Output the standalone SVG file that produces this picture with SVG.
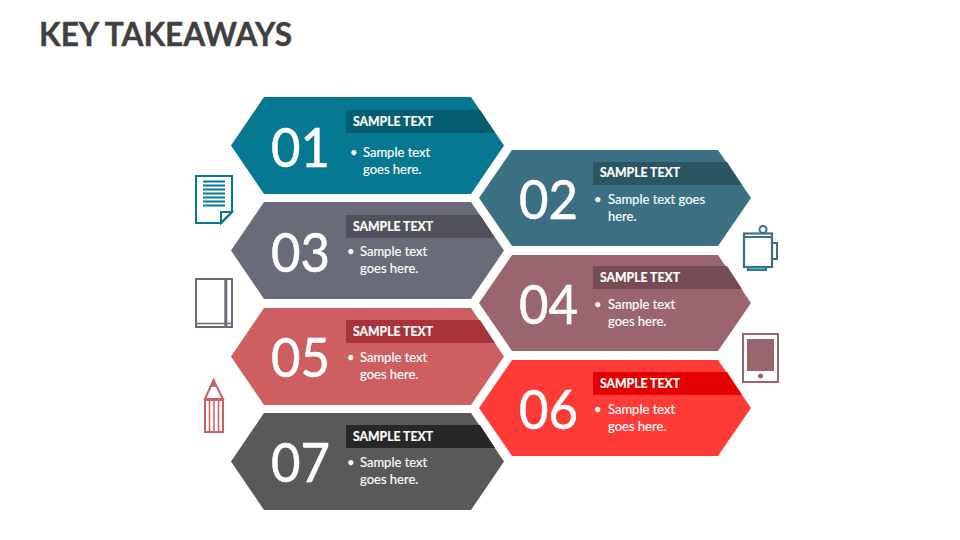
<svg xmlns="http://www.w3.org/2000/svg" width="960" height="540" viewBox="0 0 960 540">
<style>
text{font-family:Lato,"Open Sans",sans-serif;fill:#fff}
.t{font-size:33px;font-weight:700;fill:#404040;stroke:#404040;stroke-width:.4}
.n{font-size:55px;stroke:#fff;stroke-width:.6}
.h{font-size:13px;font-weight:700;stroke:#fff;stroke-width:.2}
.b{font-size:13px;stroke:#fff;stroke-width:.15}
.o{fill:none;stroke-width:2}
</style>
<defs>
<polygon id="hex" points="0,48.500 33,0 240,0 273,48.500 240,97 33,97"/>
<polygon id="hex2" points="0,48 33,0 239,0 272,48 239,96 33,96"/>
<polygon id="band" points="0,0 134,0 149,23 0,23"/>
</defs>
<rect width="960" height="540" fill="#fff"/>
<text class="t" x="39" y="46" textLength="253" lengthAdjust="spacingAndGlyphs">KEY TAKEAWAYS</text>
<g id="node-01"><use href="#hex" x="231" y="97" fill="#077891"/><use href="#band" x="346" y="110" fill="#055E70"/>
<text class="n" x="271" y="167" textLength="59" lengthAdjust="spacingAndGlyphs">01</text><text class="h" x="353" y="126" textLength="80" lengthAdjust="spacingAndGlyphs">SAMPLE TEXT</text>
<text class="b" x="350" y="157">•</text><text class="b" x="363" y="157">Sample text</text><text class="b" x="363" y="174">goes here.</text></g>
<g id="node-02"><use href="#hex2" x="479" y="150" fill="#3A7082"/><use href="#band" x="593" y="162" fill="#2C5564"/>
<text class="n" x="519" y="219" textLength="59" lengthAdjust="spacingAndGlyphs">02</text><text class="h" x="600" y="177" textLength="80" lengthAdjust="spacingAndGlyphs">SAMPLE TEXT</text>
<text class="b" x="594" y="204">•</text><text class="b" x="608" y="204">Sample text goes</text><text class="b" x="608" y="221">here.</text></g>
<g id="node-03"><use href="#hex" x="231" y="202" fill="#6A6B78"/><use href="#band" x="346" y="215" fill="#50515B"/>
<text class="n" x="271" y="272" textLength="59" lengthAdjust="spacingAndGlyphs">03</text><text class="h" x="353" y="231" textLength="80" lengthAdjust="spacingAndGlyphs">SAMPLE TEXT</text>
<text class="b" x="347" y="256">•</text><text class="b" x="360" y="256">Sample text</text><text class="b" x="360" y="273">goes here.</text></g>
<g id="node-04"><use href="#hex2" x="479" y="255" fill="#9A656E"/><use href="#band" x="593" y="266" fill="#754C54"/>
<text class="n" x="519" y="324" textLength="59" lengthAdjust="spacingAndGlyphs">04</text><text class="h" x="600" y="282" textLength="80" lengthAdjust="spacingAndGlyphs">SAMPLE TEXT</text>
<text class="b" x="594" y="309">•</text><text class="b" x="608" y="309">Sample text</text><text class="b" x="608" y="326">goes here.</text></g>
<g id="node-05"><use href="#hex" x="231" y="308" fill="#CD5F61"/><use href="#band" x="346" y="320" fill="#A83439"/>
<text class="n" x="271" y="377" textLength="59" lengthAdjust="spacingAndGlyphs">05</text><text class="h" x="353" y="336" textLength="80" lengthAdjust="spacingAndGlyphs">SAMPLE TEXT</text>
<text class="b" x="347" y="362">•</text><text class="b" x="360" y="362">Sample text</text><text class="b" x="360" y="379">goes here.</text></g>
<g id="node-06"><use href="#hex2" x="479" y="360" fill="#FF3B38"/><use href="#band" x="593" y="372" fill="#E30000"/>
<text class="n" x="519" y="429" textLength="59" lengthAdjust="spacingAndGlyphs">06</text><text class="h" x="600" y="388" textLength="80" lengthAdjust="spacingAndGlyphs">SAMPLE TEXT</text>
<text class="b" x="594" y="414">•</text><text class="b" x="608" y="414">Sample text</text><text class="b" x="608" y="431">goes here.</text></g>
<g id="node-07"><use href="#hex" x="231" y="413" fill="#595959"/><use href="#band" x="346" y="425" fill="#272727"/>
<text class="n" x="271" y="482" textLength="59" lengthAdjust="spacingAndGlyphs">07</text><text class="h" x="353" y="441" textLength="80" lengthAdjust="spacingAndGlyphs">SAMPLE TEXT</text>
<text class="b" x="347" y="467">•</text><text class="b" x="360" y="467">Sample text</text><text class="b" x="360" y="484">goes here.</text></g>
<g id="icon-doc" stroke="#077891">
<path d="M196 176H232V212L221 223H196Z" fill="none" stroke-width="2"/>
<path d="M232 212H221V223Z" fill="none" stroke-width="2"/>
<path d="M203 181.500H225M203 185.500H225M203 189.500H225M203 193.500H225M203 197.500H225M203 201.500H225M203 205.500H225" stroke-width="1.800" fill="none"/>
</g>
<g id="icon-book" stroke="#6A6B78">
<rect class="o" x="196" y="279" width="36" height="48"/>
<path d="M225.800 279V327" fill="none" stroke-width="3"/>
<path d="M196 323.500H232" fill="none" stroke-width="1.500"/>
</g>
<g id="icon-pencil" stroke="#CD5F61">
<path class="o" d="M205 399L213.500 380L223 399Z"/>
<rect class="o" x="205" y="400" width="18" height="32"/>
<path d="M209.500 400V432M214 400V432M218.500 400V432" fill="none" stroke-width="1.500"/>
<path d="M210.500 387H216.500L213.500 380Z" fill="#CD5F61" stroke="none"/>
<circle cx="213.500" cy="386" r="1" fill="#3DB8DC" stroke="none"/>
</g>
<g id="icon-mug" stroke="#3A7082">
<rect x="744" y="233.500" width="28" height="33.500" fill="none" stroke-width="2.200"/>
<path class="o" d="M744 237H772"/>
<circle class="o" cx="763" cy="229.500" r="3.500"/>
<path class="o" d="M772 243H777V259H772"/>
<path class="o" d="M748 267V270H766V267"/>
<path d="M749 268.500H765" stroke="#3DB8DC" stroke-width="1.500" fill="none"/>
</g>
<g id="icon-tablet" stroke="#9A656E">
<rect class="o" x="743" y="334" width="35" height="48"/>
<rect x="747" y="339" width="27" height="32" fill="#9A656E" stroke="none"/>
<circle cx="760.500" cy="376" r="2.500" fill="#9A656E" stroke="none"/>
</g>
</svg>
